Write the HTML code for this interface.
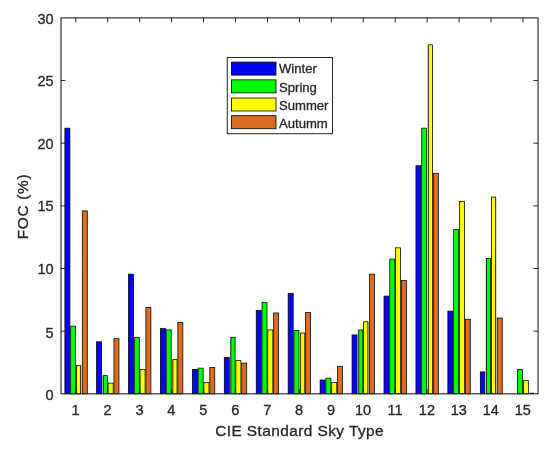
<!DOCTYPE html>
<html><head><meta charset="utf-8"><title>FOC by CIE Standard Sky Type</title>
<style>html,body{margin:0;padding:0;background:#fff;}svg{display:block;}text{font-family:"Liberation Sans",Arial,Helvetica,sans-serif;fill:#262626;stroke:#262626;stroke-width:0.3px;}</style></head><body>
<svg width="550" height="451" viewBox="0 0 550 451">
<rect x="0" y="0" width="550" height="451" fill="#ffffff"/>
<rect x="64.89" y="128.16" width="5.01" height="265.64" fill="#0000ff" stroke="#000" stroke-width="0.75"/>
<rect x="70.69" y="326.14" width="5.01" height="67.66" fill="#00ff00" stroke="#000" stroke-width="0.75"/>
<rect x="76.50" y="365.91" width="5.01" height="27.89" fill="#a8a8a8" stroke="none"/>
<rect x="76.50" y="365.61" width="4.01" height="28.19" fill="#ffff00" stroke="#000" stroke-width="0.75"/>
<rect x="82.31" y="210.86" width="5.01" height="182.94" fill="#da6d20" stroke="#000" stroke-width="0.75"/>
<rect x="96.53" y="341.80" width="5.01" height="52.00" fill="#0000ff" stroke="#000" stroke-width="0.75"/>
<rect x="102.33" y="375.93" width="5.01" height="17.87" fill="#a8a8a8" stroke="none"/>
<rect x="103.23" y="375.63" width="4.11" height="18.17" fill="#00ff00" stroke="#000" stroke-width="0.75"/>
<rect x="108.14" y="383.15" width="5.01" height="10.65" fill="#ffff00" stroke="#000" stroke-width="0.75"/>
<rect x="113.95" y="338.67" width="5.01" height="55.13" fill="#da6d20" stroke="#000" stroke-width="0.75"/>
<rect x="128.47" y="274.14" width="5.01" height="119.66" fill="#0000ff" stroke="#000" stroke-width="0.75"/>
<rect x="134.27" y="337.42" width="5.01" height="56.38" fill="#00ff00" stroke="#000" stroke-width="0.75"/>
<rect x="140.08" y="369.37" width="5.01" height="24.43" fill="#ffff00" stroke="#000" stroke-width="0.75"/>
<rect x="145.89" y="307.34" width="5.01" height="86.46" fill="#da6d20" stroke="#000" stroke-width="0.75"/>
<rect x="160.41" y="328.64" width="5.41" height="65.16" fill="#0000ff" stroke="#000" stroke-width="0.75"/>
<rect x="166.21" y="329.90" width="5.01" height="63.90" fill="#00ff00" stroke="#000" stroke-width="0.75"/>
<rect x="172.02" y="359.64" width="5.01" height="34.16" fill="#a8a8a8" stroke="none"/>
<rect x="172.92" y="359.34" width="4.11" height="34.46" fill="#ffff00" stroke="#000" stroke-width="0.75"/>
<rect x="177.83" y="322.38" width="5.01" height="71.42" fill="#da6d20" stroke="#000" stroke-width="0.75"/>
<rect x="192.35" y="369.37" width="5.01" height="24.43" fill="#0000ff" stroke="#000" stroke-width="0.75"/>
<rect x="198.15" y="368.11" width="5.01" height="25.69" fill="#00ff00" stroke="#000" stroke-width="0.75"/>
<rect x="203.96" y="382.52" width="5.01" height="11.28" fill="#ffff00" stroke="#000" stroke-width="0.75"/>
<rect x="209.77" y="367.49" width="5.01" height="26.31" fill="#da6d20" stroke="#000" stroke-width="0.75"/>
<rect x="224.29" y="357.46" width="5.01" height="36.34" fill="#0000ff" stroke="#000" stroke-width="0.75"/>
<rect x="230.09" y="337.72" width="5.01" height="56.08" fill="#a8a8a8" stroke="none"/>
<rect x="230.89" y="337.42" width="4.21" height="56.38" fill="#00ff00" stroke="#000" stroke-width="0.75"/>
<rect x="235.90" y="360.60" width="5.01" height="33.20" fill="#ffff00" stroke="#000" stroke-width="0.75"/>
<rect x="241.71" y="363.10" width="5.01" height="30.70" fill="#da6d20" stroke="#000" stroke-width="0.75"/>
<rect x="256.23" y="310.48" width="5.01" height="83.32" fill="#0000ff" stroke="#000" stroke-width="0.75"/>
<rect x="262.03" y="302.33" width="5.01" height="91.47" fill="#00ff00" stroke="#000" stroke-width="0.75"/>
<rect x="267.84" y="329.90" width="5.01" height="63.90" fill="#ffff00" stroke="#000" stroke-width="0.75"/>
<rect x="273.65" y="312.98" width="5.01" height="80.82" fill="#da6d20" stroke="#000" stroke-width="0.75"/>
<rect x="288.17" y="293.56" width="5.01" height="100.24" fill="#0000ff" stroke="#000" stroke-width="0.75"/>
<rect x="293.97" y="330.52" width="5.01" height="63.28" fill="#00ff00" stroke="#000" stroke-width="0.75"/>
<rect x="299.78" y="333.33" width="5.01" height="60.47" fill="#a8a8a8" stroke="none"/>
<rect x="300.68" y="333.03" width="4.11" height="60.77" fill="#ffff00" stroke="#000" stroke-width="0.75"/>
<rect x="305.59" y="312.36" width="5.01" height="81.44" fill="#da6d20" stroke="#000" stroke-width="0.75"/>
<rect x="320.11" y="380.02" width="5.01" height="13.78" fill="#0000ff" stroke="#000" stroke-width="0.75"/>
<rect x="325.91" y="378.14" width="5.01" height="15.66" fill="#00ff00" stroke="#000" stroke-width="0.75"/>
<rect x="331.72" y="382.52" width="5.01" height="11.28" fill="#ffff00" stroke="#000" stroke-width="0.75"/>
<rect x="337.53" y="366.23" width="5.01" height="27.57" fill="#da6d20" stroke="#000" stroke-width="0.75"/>
<rect x="352.05" y="334.91" width="5.01" height="58.89" fill="#0000ff" stroke="#000" stroke-width="0.75"/>
<rect x="357.85" y="330.20" width="5.01" height="63.60" fill="#a8a8a8" stroke="none"/>
<rect x="358.75" y="329.90" width="4.11" height="63.90" fill="#00ff00" stroke="#000" stroke-width="0.75"/>
<rect x="363.66" y="322.05" width="5.01" height="71.75" fill="#a8a8a8" stroke="none"/>
<rect x="363.66" y="321.75" width="4.21" height="72.05" fill="#ffff00" stroke="#000" stroke-width="0.75"/>
<rect x="369.47" y="274.14" width="5.01" height="119.66" fill="#da6d20" stroke="#000" stroke-width="0.75"/>
<rect x="383.99" y="296.07" width="5.01" height="97.73" fill="#0000ff" stroke="#000" stroke-width="0.75"/>
<rect x="389.79" y="259.10" width="5.01" height="134.70" fill="#00ff00" stroke="#000" stroke-width="0.75"/>
<rect x="395.60" y="247.83" width="5.01" height="145.97" fill="#ffff00" stroke="#000" stroke-width="0.75"/>
<rect x="401.41" y="280.40" width="5.01" height="113.40" fill="#da6d20" stroke="#000" stroke-width="0.75"/>
<rect x="415.93" y="165.75" width="5.01" height="228.05" fill="#0000ff" stroke="#000" stroke-width="0.75"/>
<rect x="421.73" y="128.16" width="4.71" height="265.64" fill="#00ff00" stroke="#000" stroke-width="0.75"/>
<rect x="427.54" y="45.14" width="5.01" height="348.66" fill="#a8a8a8" stroke="none"/>
<rect x="428.34" y="44.84" width="4.21" height="348.96" fill="#ffff00" stroke="#000" stroke-width="0.75"/>
<rect x="433.35" y="173.27" width="5.01" height="220.53" fill="#da6d20" stroke="#000" stroke-width="0.75"/>
<rect x="447.87" y="311.10" width="5.01" height="82.70" fill="#0000ff" stroke="#000" stroke-width="0.75"/>
<rect x="453.67" y="229.66" width="5.01" height="164.14" fill="#00ff00" stroke="#000" stroke-width="0.75"/>
<rect x="459.48" y="201.46" width="5.01" height="192.34" fill="#ffff00" stroke="#000" stroke-width="0.75"/>
<rect x="465.29" y="319.25" width="5.01" height="74.55" fill="#da6d20" stroke="#000" stroke-width="0.75"/>
<rect x="480.31" y="371.87" width="4.51" height="21.93" fill="#0000ff" stroke="#000" stroke-width="0.75"/>
<rect x="485.61" y="258.78" width="5.01" height="135.02" fill="#a8a8a8" stroke="none"/>
<rect x="486.51" y="258.48" width="4.11" height="135.32" fill="#00ff00" stroke="#000" stroke-width="0.75"/>
<rect x="491.42" y="197.38" width="5.01" height="196.42" fill="#a8a8a8" stroke="none"/>
<rect x="491.42" y="197.08" width="4.21" height="196.72" fill="#ffff00" stroke="#000" stroke-width="0.75"/>
<rect x="497.23" y="317.99" width="5.01" height="75.81" fill="#da6d20" stroke="#000" stroke-width="0.75"/>
<rect x="517.55" y="369.37" width="5.01" height="24.43" fill="#00ff00" stroke="#000" stroke-width="0.75"/>
<rect x="523.36" y="380.64" width="5.01" height="13.16" fill="#ffff00" stroke="#000" stroke-width="0.75"/>
<rect x="61.00" y="17.90" width="477.05" height="375.90" fill="none" stroke="#262626" stroke-width="1.15"/>
<line x1="529.67" y1="393.30" x2="533.97" y2="393.30" stroke="#000" stroke-width="1"/>
<line x1="75.80" y1="17.90" x2="75.80" y2="22.50" stroke="#262626" stroke-width="1"/>
<line x1="75.80" y1="393.80" x2="75.80" y2="389.20" stroke="#262626" stroke-width="1"/>
<text transform="translate(75.55,414.9) scale(1,1.02)" font-size="14.5" text-anchor="middle">1</text>
<line x1="107.74" y1="17.90" x2="107.74" y2="22.50" stroke="#262626" stroke-width="1"/>
<line x1="107.74" y1="393.80" x2="107.74" y2="389.20" stroke="#262626" stroke-width="1"/>
<text transform="translate(107.49,414.9) scale(1,1.02)" font-size="14.5" text-anchor="middle">2</text>
<line x1="139.68" y1="17.90" x2="139.68" y2="22.50" stroke="#262626" stroke-width="1"/>
<line x1="139.68" y1="393.80" x2="139.68" y2="389.20" stroke="#262626" stroke-width="1"/>
<text transform="translate(139.43,414.9) scale(1,1.02)" font-size="14.5" text-anchor="middle">3</text>
<line x1="171.62" y1="17.90" x2="171.62" y2="22.50" stroke="#262626" stroke-width="1"/>
<line x1="171.62" y1="393.80" x2="171.62" y2="389.20" stroke="#262626" stroke-width="1"/>
<text transform="translate(171.37,414.9) scale(1,1.02)" font-size="14.5" text-anchor="middle">4</text>
<line x1="203.56" y1="17.90" x2="203.56" y2="22.50" stroke="#262626" stroke-width="1"/>
<line x1="203.56" y1="393.80" x2="203.56" y2="389.20" stroke="#262626" stroke-width="1"/>
<text transform="translate(203.31,414.9) scale(1,1.02)" font-size="14.5" text-anchor="middle">5</text>
<line x1="235.50" y1="17.90" x2="235.50" y2="22.50" stroke="#262626" stroke-width="1"/>
<line x1="235.50" y1="393.80" x2="235.50" y2="389.20" stroke="#262626" stroke-width="1"/>
<text transform="translate(235.25,414.9) scale(1,1.02)" font-size="14.5" text-anchor="middle">6</text>
<line x1="267.44" y1="17.90" x2="267.44" y2="22.50" stroke="#262626" stroke-width="1"/>
<line x1="267.44" y1="393.80" x2="267.44" y2="389.20" stroke="#262626" stroke-width="1"/>
<text transform="translate(267.19,414.9) scale(1,1.02)" font-size="14.5" text-anchor="middle">7</text>
<line x1="299.38" y1="17.90" x2="299.38" y2="22.50" stroke="#262626" stroke-width="1"/>
<line x1="299.38" y1="393.80" x2="299.38" y2="389.20" stroke="#262626" stroke-width="1"/>
<text transform="translate(299.13,414.9) scale(1,1.02)" font-size="14.5" text-anchor="middle">8</text>
<line x1="331.32" y1="17.90" x2="331.32" y2="22.50" stroke="#262626" stroke-width="1"/>
<line x1="331.32" y1="393.80" x2="331.32" y2="389.20" stroke="#262626" stroke-width="1"/>
<text transform="translate(331.07,414.9) scale(1,1.02)" font-size="14.5" text-anchor="middle">9</text>
<line x1="363.26" y1="17.90" x2="363.26" y2="22.50" stroke="#262626" stroke-width="1"/>
<line x1="363.26" y1="393.80" x2="363.26" y2="389.20" stroke="#262626" stroke-width="1"/>
<text transform="translate(363.01,414.9) scale(1,1.02)" font-size="14.5" text-anchor="middle">10</text>
<line x1="395.20" y1="17.90" x2="395.20" y2="22.50" stroke="#262626" stroke-width="1"/>
<line x1="395.20" y1="393.80" x2="395.20" y2="389.20" stroke="#262626" stroke-width="1"/>
<text transform="translate(394.95,414.9) scale(1,1.02)" font-size="14.5" text-anchor="middle">11</text>
<line x1="427.14" y1="17.90" x2="427.14" y2="22.50" stroke="#262626" stroke-width="1"/>
<line x1="427.14" y1="393.80" x2="427.14" y2="389.20" stroke="#262626" stroke-width="1"/>
<text transform="translate(426.89,414.9) scale(1,1.02)" font-size="14.5" text-anchor="middle">12</text>
<line x1="459.08" y1="17.90" x2="459.08" y2="22.50" stroke="#262626" stroke-width="1"/>
<line x1="459.08" y1="393.80" x2="459.08" y2="389.20" stroke="#262626" stroke-width="1"/>
<text transform="translate(458.83,414.9) scale(1,1.02)" font-size="14.5" text-anchor="middle">13</text>
<line x1="491.02" y1="17.90" x2="491.02" y2="22.50" stroke="#262626" stroke-width="1"/>
<line x1="491.02" y1="393.80" x2="491.02" y2="389.20" stroke="#262626" stroke-width="1"/>
<text transform="translate(490.77,414.9) scale(1,1.02)" font-size="14.5" text-anchor="middle">14</text>
<line x1="522.96" y1="17.90" x2="522.96" y2="22.50" stroke="#262626" stroke-width="1"/>
<line x1="522.96" y1="393.80" x2="522.96" y2="389.20" stroke="#262626" stroke-width="1"/>
<text transform="translate(522.71,414.9) scale(1,1.02)" font-size="14.5" text-anchor="middle">15</text>
<text transform="translate(53.65,400.00) scale(1,1.04)" font-size="14.5" text-anchor="end">0</text>
<line x1="61.00" y1="331.15" x2="65.60" y2="331.15" stroke="#262626" stroke-width="1"/>
<line x1="538.05" y1="331.15" x2="533.45" y2="331.15" stroke="#262626" stroke-width="1"/>
<text transform="translate(53.65,337.90) scale(1,1.04)" font-size="14.5" text-anchor="end">5</text>
<line x1="61.00" y1="268.50" x2="65.60" y2="268.50" stroke="#262626" stroke-width="1"/>
<line x1="538.05" y1="268.50" x2="533.45" y2="268.50" stroke="#262626" stroke-width="1"/>
<text transform="translate(53.65,274.30) scale(1,1.04)" font-size="14.5" text-anchor="end">10</text>
<line x1="61.00" y1="205.85" x2="65.60" y2="205.85" stroke="#262626" stroke-width="1"/>
<line x1="538.05" y1="205.85" x2="533.45" y2="205.85" stroke="#262626" stroke-width="1"/>
<text transform="translate(53.65,211.30) scale(1,1.04)" font-size="14.5" text-anchor="end">15</text>
<line x1="61.00" y1="143.20" x2="65.60" y2="143.20" stroke="#262626" stroke-width="1"/>
<line x1="538.05" y1="143.20" x2="533.45" y2="143.20" stroke="#262626" stroke-width="1"/>
<text transform="translate(53.65,149.26) scale(1,1.04)" font-size="14.5" text-anchor="end">20</text>
<line x1="61.00" y1="80.55" x2="65.60" y2="80.55" stroke="#262626" stroke-width="1"/>
<line x1="538.05" y1="80.55" x2="533.45" y2="80.55" stroke="#262626" stroke-width="1"/>
<text transform="translate(53.65,85.63) scale(1,1.04)" font-size="14.5" text-anchor="end">25</text>
<text transform="translate(53.65,23.58) scale(1,1.04)" font-size="14.5" text-anchor="end">30</text>
<text transform="translate(299.6,436.35) scale(1,1.0001)" font-size="15.4" letter-spacing="0.44" text-anchor="middle">CIE Standard Sky Type</text>
<text transform="translate(27.9,206.5) rotate(-90)" font-size="15.4" letter-spacing="0.7" text-anchor="middle">FOC (%)</text>
<rect x="227.3" y="57.5" width="105.2" height="76.2" fill="#fff" stroke="#262626" stroke-width="1"/>
<rect x="231.45" y="62.10" width="44.55" height="13.0" fill="#0000ff" stroke="#000" stroke-width="0.8"/>
<text x="279.0" y="73.40" font-size="13.1">Winter</text>
<rect x="231.45" y="79.85" width="44.55" height="13.0" fill="#00ff00" stroke="#000" stroke-width="0.8"/>
<text x="279.0" y="91.55" font-size="13.1">Spring</text>
<rect x="231.45" y="98.00" width="44.55" height="13.0" fill="#ffff00" stroke="#000" stroke-width="0.8"/>
<text x="279.0" y="109.70" font-size="13.1">Summer</text>
<rect x="231.45" y="115.70" width="44.55" height="13.0" fill="#da6d20" stroke="#000" stroke-width="0.8"/>
<text x="279.0" y="127.85" font-size="13.1">Autumm</text>
</svg></body></html>
